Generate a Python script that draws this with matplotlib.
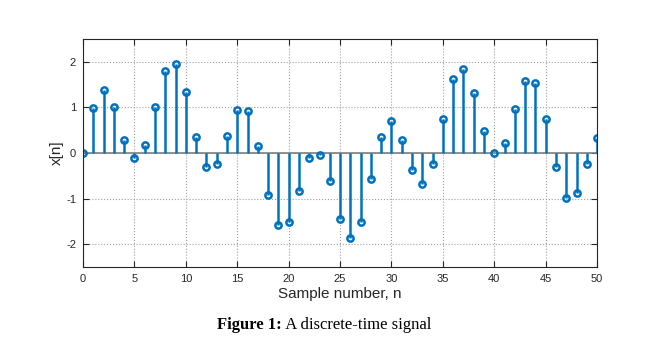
import matplotlib
matplotlib.use("Agg")
import matplotlib.pyplot as plt
import numpy as np

n = list(range(51))
x = [0.0, 0.98, 1.37, 1.0, 0.28, -0.12, 0.17, 1.0, 1.79, 1.94,
     1.33, 0.35, -0.31, -0.23, 0.37, 0.95, 0.91, 0.15, -0.92, -1.58,
     -1.5, -0.83, -0.12, -0.04, -0.61, -1.44, -1.86, -1.52, -0.57, 0.35,
     0.69, 0.28, -0.38, -0.68, -0.23, 0.74, 1.63, 1.85, 1.32, 0.48,
     0.0, 0.22, 0.96, 1.57, 1.53, 0.74, -0.31, -0.98, -0.88, -0.23,
     0.32]
xticks = [0, 5, 10, 15, 20, 25, 30, 35, 40, 45, 50]
yticks = [-2, -1, 0, 1, 2]

plt.rcParams['font.family'] = ['Liberation Sans', 'DejaVu Sans']
plt.rcParams['axes.unicode_minus'] = False
fig = plt.figure(figsize=(6.49, 3.63), dpi=100)
ax = fig.add_axes([0.128, 0.264, 0.792, 0.629])

color = '#0072BD'
ml, sl, bl = ax.stem(n, x, basefmt=' ')
plt.setp(sl, color=color, linewidth=1.8)
plt.setp(ml, marker='o', markersize=4.5, markerfacecolor='none',
         markeredgecolor=color, markeredgewidth=1.8)
ax.axhline(0, color='#7f7f7f', linewidth=1.2, zorder=1)

ax.set_xlim(0, 50)
ax.set_ylim(-2.5, 2.5)
ax.set_xticks(xticks)
ax.set_yticks(yticks)
ax.grid(True, linestyle=':', color='#a0a0a0', linewidth=0.8)
ax.set_axisbelow(True)
ax.tick_params(direction='in', top=True, right=True, labelsize=8,
               length=4, width=0.8, colors='#262626', labelcolor='#262626',
               pad=5)
for s in ax.spines.values():
    s.set_color('#262626')
    s.set_linewidth(0.8)
ax.set_xlabel('Sample number, n', fontsize=11, color='#262626', labelpad=2)
ax.set_ylabel('x[n]', fontsize=11, color='#262626', labelpad=2)

serif = ['Liberation Serif', 'DejaVu Serif']
t1 = fig.text(0, 0.105, 'Figure 1:', ha='left', va='center', fontsize=12,
              fontweight='bold', family=serif)
t2 = fig.text(0, 0.105, ' A discrete-time signal', ha='left', va='center',
              fontsize=12, family=serif)
fig.canvas.draw()
r = fig.canvas.get_renderer()
w1 = t1.get_window_extent(r).width / fig.bbox.width
w2 = t2.get_window_extent(r).width / fig.bbox.width
x0 = 0.5 - (w1 + w2) / 2
t1.set_x(x0)
t2.set_x(x0 + w1)

fig.savefig('out.png', dpi=100)
